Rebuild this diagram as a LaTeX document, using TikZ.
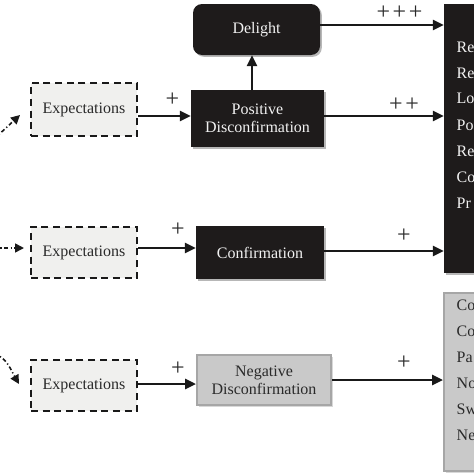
\documentclass[tikz,border=0pt]{standalone}
\usepackage{fontspec}
\setmainfont{Liberation Serif}
\usetikzlibrary{arrows.meta,shadows}
\definecolor{boxblack}{HTML}{1E1B1B}
\definecolor{expfill}{HTML}{F0F0EE}
\definecolor{ndfill}{HTML}{C9C9C9}
\definecolor{nddraw}{HTML}{A6A6A6}
\definecolor{txt}{HTML}{2A2A2A}
\begin{document}
\begin{tikzpicture}[x=1pt,y=-1pt,
  font=\fontsize{16}{18}\selectfont,
  base/.style={inner sep=0pt, align=center, rectangle},
  blackbox/.style={base, fill=boxblack, text=white!95!black,
    drop shadow={shadow xshift=1.8pt, shadow yshift=-1.8pt, fill=black!40, opacity=.7}},
  graybox/.style={base, fill=ndfill, draw=nddraw, line width=2pt, text=txt,
    drop shadow={shadow xshift=1.5pt, shadow yshift=-1.5pt, fill=black!25, opacity=.6}},
  expbox/.style={base, fill=expfill, draw=black!90, line width=2.6pt,
    dash pattern=on 7pt off 4.7pt, text=txt, minimum width=106pt},
  arr/.style={line width=2.6pt, draw=black!90, -{Triangle[length=11pt,width=10pt]}},
  dd/.style={line width=1.6pt, draw=black!90, dash pattern=on 4pt off 2.5pt on 1.2pt off 2.5pt,
    -{Triangle[length=9pt,width=9pt]}},
  sign/.style={inner sep=0pt, text=txt, font=\fontsize{24}{24}\selectfont},
  listw/.style={anchor=west, inner sep=0pt, text=white!95!black},
  listg/.style={anchor=west, inner sep=0pt, text=txt}]
\useasboundingbox (0,0) rectangle (474,474);
\clip (0,0) rectangle (474,474);
\fill[white] (0,0) rectangle (474,474);

% boxes
\node[blackbox, rounded corners=9pt, minimum width=127pt, minimum height=51pt] (del) at (256.5,29.5) {Delight};
\node[blackbox, minimum width=133pt, minimum height=57pt] (pd) at (257.5,118.5) {Positive\\Disconfirmation};
\node[blackbox, minimum width=128pt, minimum height=53pt] (conf) at (260,252.5) {Confirmation};
\node[graybox, minimum width=134pt, minimum height=50pt] (nd) at (264,380) {Negative\\Disconfirmation};

\node[expbox, minimum height=53pt] (e1) at (84,109.5) {Expectations};
\node[expbox, minimum height=51pt] (e2) at (84,252.5) {Expectations};
\node[expbox, minimum height=51pt] (e3) at (84,385.5) {Expectations};

\node[blackbox, minimum width=80pt, minimum height=269pt] (r1) at (484,138.5) {};
\node[graybox, minimum width=80pt, minimum height=178pt] (r2) at (484,382) {};

% list texts
\node[listw] (r1a) at (456.5,47) {Re};
\node[listw] (r1b) at (456.5,73) {Re};
\node[listw] (r1c) at (456.5,98) {Lo};
\node[listw] (r1d) at (456.5,125) {Po};
\node[listw] (r1e) at (456.5,151) {Re};
\node[listw] (r1f) at (456.5,177) {Co};
\node[listw] (r1g) at (456.5,203) {Pr};

\node[listg] (r2a) at (456.5,305) {Co};
\node[listg] (r2b) at (456.5,331) {Co};
\node[listg] (r2c) at (456.5,357) {Pa};
\node[listg] (r2d) at (456.5,383) {No};
\node[listg] (r2e) at (456.5,409) {Sw};
\node[listg] (r2f) at (456.5,435) {Ne};

% connectors
\draw[arr] ([yshift=-6.5pt]e1.east) -- ([yshift=2.5pt]pd.west);
\draw[arr] ([yshift=4.5pt]e2.east) -- ([yshift=4.5pt]conf.west);
\draw[arr] ([yshift=1.5pt]e3.east) -- ([yshift=-4pt]nd.west);

\draw[arr] ([xshift=-5.5pt]pd.north) -- ([xshift=-5.5pt]pd.north |- del.south);

\draw[arr] ([yshift=4.5pt]del.east) -- ([yshift=4.5pt]del.east -| r1.west);
\draw[arr] ([yshift=2.5pt]pd.east) -- ([yshift=2.5pt]pd.east -| r1.west);
\draw[arr] ([yshift=1.5pt]conf.east) -- ([yshift=1.5pt]conf.east -| r1.west);
\draw[arr] (nd.east) -- (nd.east -| r2.west);

% signs
\node[sign] (p1) at (172.5,100) {+};
\node[sign] (p2) at (178,230) {+};
\node[sign] (p3) at (178,369) {+};
\node[sign] (p4) at (399.5,12.5) {+\kern2.5pt+\kern2.5pt+};
\node[sign] (p5) at (404,105) {+\kern2.5pt+};
\node[sign] (p6) at (404,236) {+};
\node[sign] (p7) at (404,363) {+};

% incoming dash-dot arrows from the left
\coordinate (s1) at (-6,139);
\coordinate (t1) at (20,115);
\coordinate (s2) at (-6,248);
\coordinate (t2) at (24,248);
\coordinate (s3) at (-6,354);
\coordinate (t3) at (19,384);
\draw[dd] (s1) -- (t1);
\draw[dd] (s2) -- (t2);
\draw[dd] (s3) .. controls (6,356) and (12,372) .. (t3);
\end{tikzpicture}
\end{document}
